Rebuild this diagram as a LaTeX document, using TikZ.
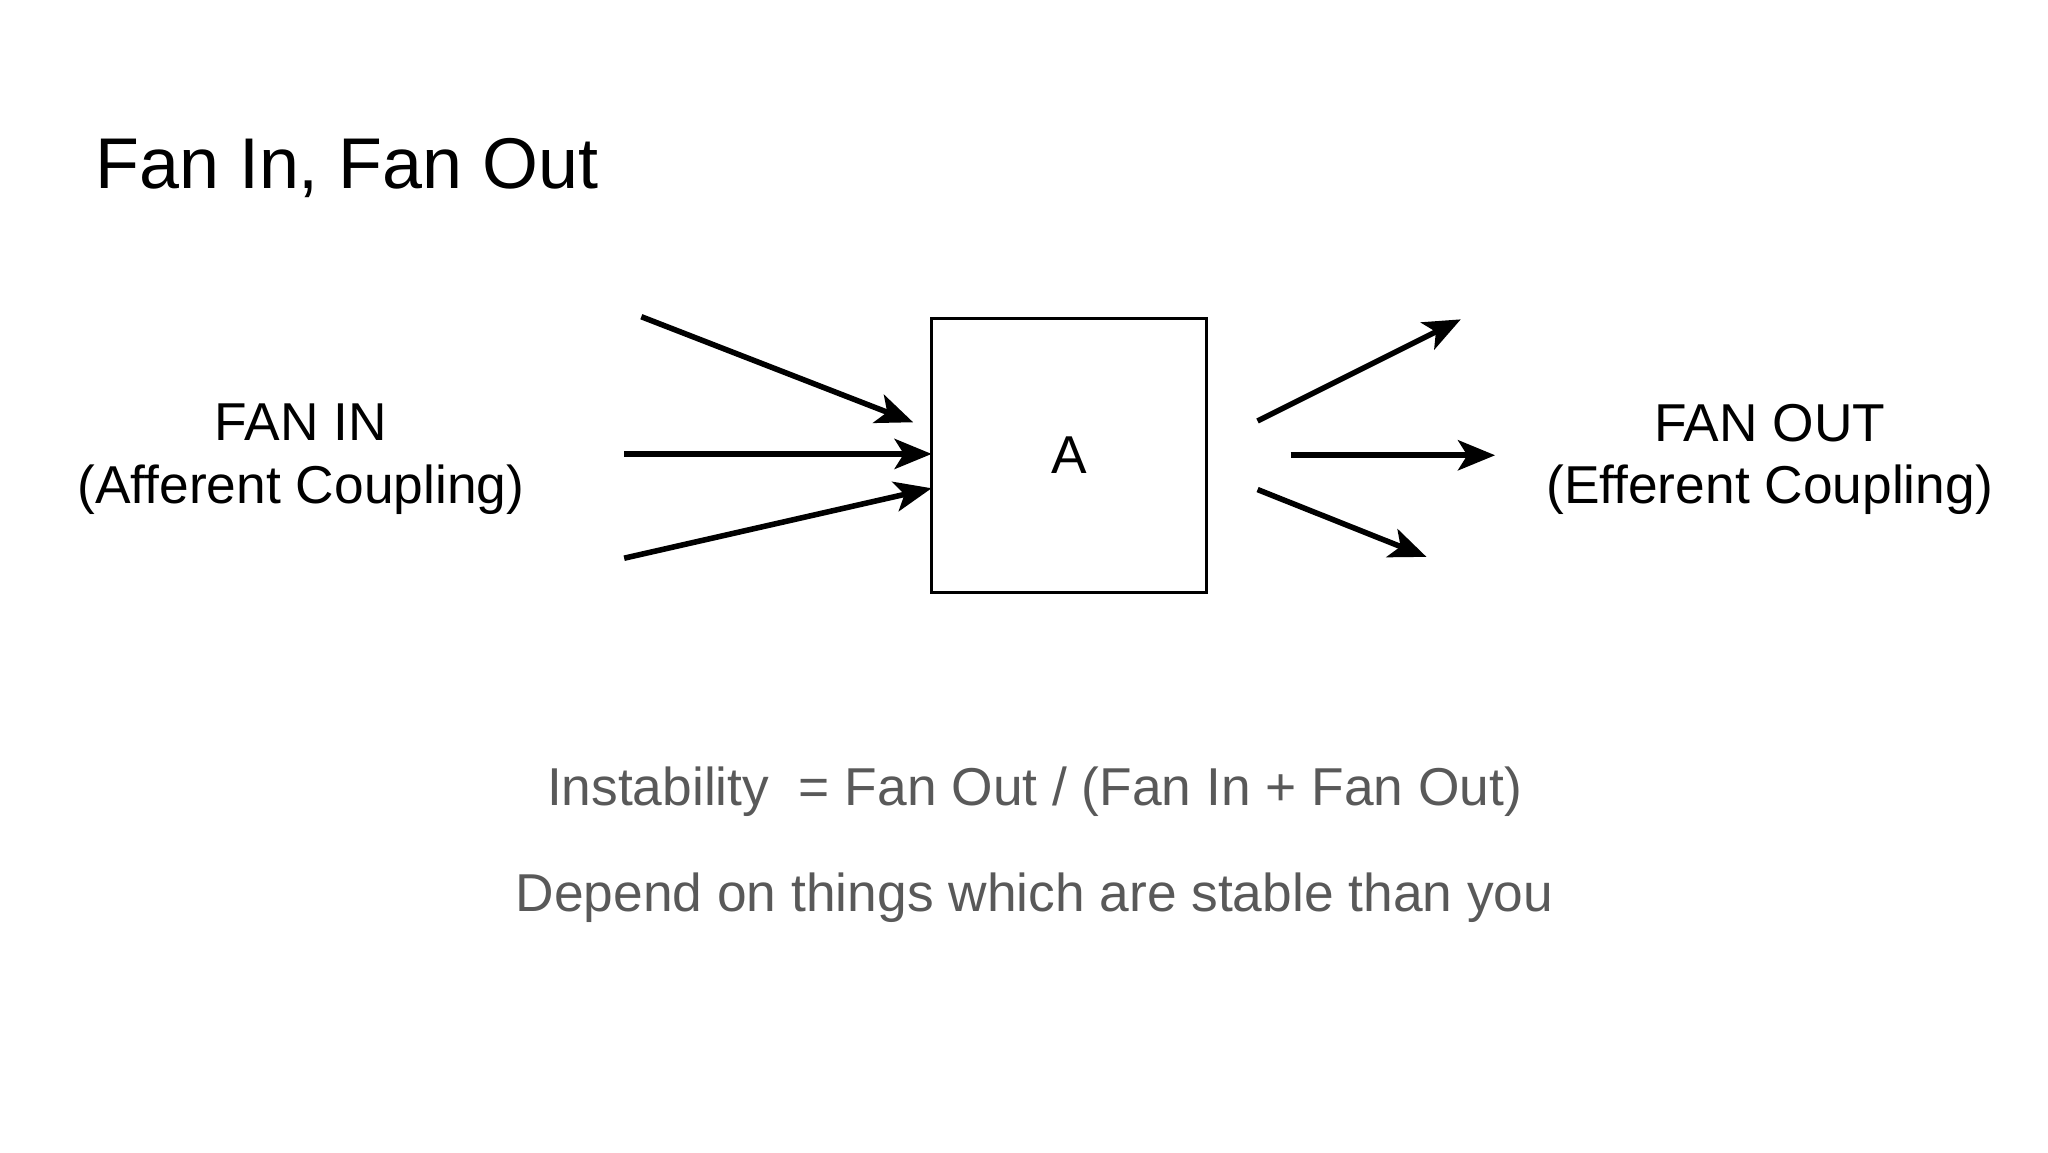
\documentclass[tikz,border=0pt]{standalone}
\usepackage{fontspec}
\setmainfont{Liberation Sans}
\usetikzlibrary{arrows.meta}
\definecolor{gr}{HTML}{595959}
\begin{document}
\begin{tikzpicture}[x=0.02cm,y=-0.02cm,
  arr/.style={line width=2.4pt,-{Stealth[length=16pt,width=13pt,inset=4pt]}},
  lbl/.style={font=\fontsize{23}{27}\selectfont,align=center}]
\useasboundingbox (0,0) rectangle (1552,873);
\node[anchor=west,font=\fontsize{31}{36}\selectfont] (title) at (66,127) {Fan In, Fan Out};
\node[draw,line width=1.3pt,minimum width=4.16cm,minimum height=4.16cm] (A) at (810,345) {\fontsize{23}{27}\selectfont A};
\node[lbl] (fi) at (228,348) {FAN IN\\(Afferent Coupling)};
\node[lbl] (fo) at (1341,348) {FAN OUT\\(Efferent Coupling)};
\coordinate (i1) at (486,240); \coordinate (i1e) at (692,320);
\coordinate (i2) at (473,344); \coordinate (i2e) at (706,344);
\coordinate (i3) at (473,423); \coordinate (i3e) at (706,370);
\coordinate (o1) at (953,319); \coordinate (o1e) at (1107,242);
\coordinate (o2) at (978,345); \coordinate (o2e) at (1133,345);
\coordinate (o3) at (953,371); \coordinate (o3e) at (1081,422);
\foreach \s/\e in {i1/i1e,i2/i2e,i3/i3e,o1/o1e,o2/o2e,o3/o3e} \draw[arr] (\s) -- (\e);
\node[text=gr,font=\fontsize{23}{27}\selectfont] (f1) at (784,600) {Instability\ \ = Fan Out / (Fan In + Fan Out)};
\node[text=gr,font=\fontsize{23}{27}\selectfont] (f2) at (784,680) {Depend on things which are stable than you};
\end{tikzpicture}
\end{document}
